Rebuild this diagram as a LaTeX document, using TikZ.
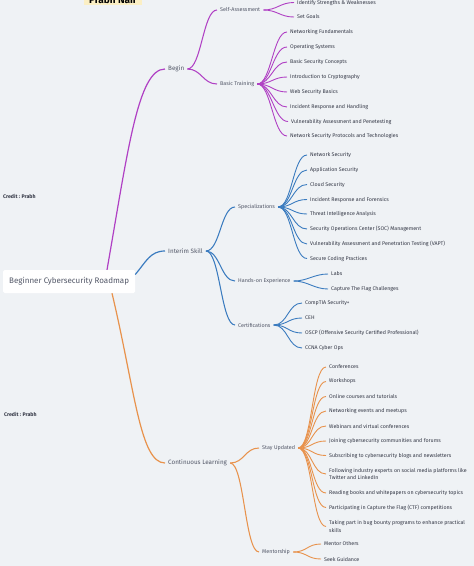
\documentclass[tikz,border=0pt]{standalone}
\usepackage{fontspec}
\setmainfont{Fira Sans}
\usetikzlibrary{calc}
\definecolor{bg}{HTML}{EFF2F5}
\definecolor{purp}{HTML}{B040C4}
\definecolor{blu}{HTML}{3A7BBF}
\definecolor{ora}{HTML}{E8924C}
\definecolor{txt}{HTML}{343846}
\definecolor{txtb}{HTML}{535868}
\definecolor{ylw}{HTML}{FBEFC4}
\newcommand\cn[3]{\draw[#1] (#2.east) .. controls +(14,0) and +(-14,0) .. (#3.west);}
\begin{document}
\begin{tikzpicture}[x=1pt,y=1pt,
  lf/.style={anchor=west, inner xsep=3pt, inner ysep=1pt, font=\fontsize{5.3}{7.6}\selectfont, text=txt, align=left},
  ltwo/.style={anchor=west, inner xsep=3pt, inner ysep=1pt, font=\fontsize{5.4}{7}\selectfont, text=txtb},
  lone/.style={anchor=west, inner xsep=3pt, inner ysep=1pt, font=\fontsize{6.3}{7}\selectfont, text=txtb},
  credit/.style={anchor=west, inner sep=0pt, font=\bfseries\fontsize{5.2}{6}\selectfont, text=txt},
  pc/.style={draw=purp, line width=0.9pt},
  bc/.style={draw=blu, line width=0.9pt},
  oc/.style={draw=ora, line width=0.9pt},
  main/.style={line width=1.2pt}
]
\useasboundingbox (0,0) rectangle (474,-566);
\fill[bg] (0,0) rectangle (474,-566);
\clip (0,0) rectangle (474,-566);

% title tag at top (cut off in the reference)
\node[fill=ylw, anchor=base, text depth=2pt, inner ysep=0pt, minimum width=58pt, font=\bfseries\fontsize{10}{10}\selectfont, text=black] (pn) at (113,-3) {Prabh Nair};

% credits
\node[credit] (cr1) at (3,-196) {Credit : Prabh};
\node[credit] (cr2) at (4,-414) {Credit : Prabh};

% root
\node[fill=white, rounded corners=1.5pt, anchor=west, inner xsep=6pt, minimum height=23pt, font=\fontsize{8}{8}\selectfont, text=txtb] (root) at (3,-281.5) {Beginner Cybersecurity Roadmap};

% level 1
\node[lone] (begin) at (165,-69) {Begin};
\node[lone] (interim) at (165,-251) {Interim Skill};
\node[lone] (cont) at (165,-463) {Continuous Learning};

\draw[pc,main] ($(root.north west)+(104,0)$) .. controls (128,-150) and (138,-69) .. (begin.west);
\draw[bc,main] ($(root.east)+(0,7)$) .. controls (146,-262) and (150,-251) .. (interim.west);
\draw[oc,main] ($(root.south west)+(109,0)$) .. controls (135,-390) and (140,-463) .. (cont.west);

% level 2
\node[ltwo] (self) at (217,-10) {Self-Assessment};
\node[ltwo] (basic) at (217,-84) {Basic Training};
\node[ltwo] (spec) at (235,-207) {Specializations};
\node[ltwo] (hands) at (235,-281) {Hands-on Experience};
\node[ltwo] (cert) at (235,-325) {Certifications};
\node[ltwo] (stay) at (259,-448) {Stay Updated};
\node[ltwo] (ment) at (259,-552) {Mentorship};

\cn{pc,line width=1.05pt}{begin}{self}
\cn{pc,line width=1.05pt}{begin}{basic}
\cn{bc,line width=1.05pt}{interim}{spec}
\cn{bc,line width=1.05pt}{interim}{hands}
\cn{bc,line width=1.05pt}{interim}{cert}
\cn{oc,line width=1.05pt}{cont}{stay}
\cn{oc,line width=1.05pt}{cont}{ment}

% Self-Assessment leaves
\node[lf] (sa1) at (294,-2.5) {Identify Strengths \& Weaknesses};
\node[lf] (sa2) at (294,-17) {Set Goals};
\foreach \n in {sa1,sa2} {\cn{pc}{self}{\n}}

% Basic Training leaves
\node[lf] (bt1) at (287,-32) {Networking Fundamentals};
\node[lf] (bt2) at (287,-47) {Operating Systems};
\node[lf] (bt3) at (287,-62) {Basic Security Concepts};
\node[lf] (bt4) at (287,-77) {Introduction to Cryptography};
\node[lf] (bt5) at (287,-92) {Web Security Basics};
\node[lf] (bt6) at (287,-107) {Incident Response and Handling};
\node[lf] (bt7) at (288,-121.5) {Vulnerability Assessment and Penetesting};
\node[lf] (bt8) at (287,-136) {Network Security Protocols and Technologies};
\foreach \n in {bt1,bt2,bt3,bt4,bt5,bt6,bt7,bt8} {\cn{pc}{basic}{\n}}

% Specializations leaves
\node[lf] (sp1) at (307,-155) {Network Security};
\node[lf] (sp2) at (307,-170) {Application Security};
\node[lf] (sp3) at (307,-184.5) {Cloud Security};
\node[lf] (sp4) at (307,-199.5) {Incident Response and Forensics};
\node[lf] (sp5) at (307,-214) {Threat Intelligence Analysis};
\node[lf] (sp6) at (307,-229) {Security Operations Center (SOC) Management};
\node[lf] (sp7) at (307,-244) {Vulnerability Assessment and Penetration Testing (VAPT)};
\node[lf] (sp8) at (307,-258.5) {Secure Coding Practices};
\foreach \n in {sp1,sp2,sp3,sp4,sp5,sp6,sp7,sp8} {\cn{bc}{spec}{\n}}

% Hands-on leaves
\node[lf] (ho1) at (328,-274) {Labs};
\node[lf] (ho2) at (328,-289) {Capture The Flag Challenges};
\foreach \n in {ho1,ho2} {\cn{bc}{hands}{\n}}

% Certifications leaves
\node[lf] (ce1) at (302,-303) {CompTIA Security+};
\node[lf] (ce2) at (302,-318) {CEH};
\node[lf] (ce3) at (302,-333) {OSCP (Offensive Security Certified Professional)};
\node[lf] (ce4) at (302,-348) {CCNA Cyber Ops};
\foreach \n in {ce1,ce2,ce3,ce4} {\cn{bc}{cert}{\n}}

% Stay Updated leaves
\node[lf] (su1) at (326,-367) {Conferences};
\node[lf] (su2) at (326,-381.5) {Workshops};
\node[lf] (su3) at (326,-396.5) {Online courses and tutorials};
\node[lf] (su4) at (326,-411) {Networking events and meetups};
\node[lf] (su5) at (326,-426) {Webinars and virtual conferences};
\node[lf] (su6) at (326,-441) {Joining cybersecurity communities and forums};
\node[lf] (su7) at (326,-455.5) {Subscribing to cybersecurity blogs and newsletters};
\node[lf] (su8) at (326,-474) {Following industry experts on social media platforms like\\Twitter and LinkedIn};
\node[lf] (su9) at (326,-493) {Reading books and whitepapers on cybersecurity topics};
\node[lf] (su10) at (326,-507.5) {Participating in Capture the Flag (CTF) competitions};
\node[lf] (su11) at (326,-526.5) {Taking part in bug bounty programs to enhance practical\\skills};
\foreach \n in {su1,su2,su3,su4,su5,su6,su7,su8,su9,su10,su11} {\cn{oc}{stay}{\n}}

% Mentorship leaves
\node[lf] (me1) at (321,-544) {Mentor Others};
\node[lf] (me2) at (321,-559) {Seek Guidance};
\foreach \n in {me1,me2} {\cn{oc}{ment}{\n}}
\end{tikzpicture}
\end{document}
